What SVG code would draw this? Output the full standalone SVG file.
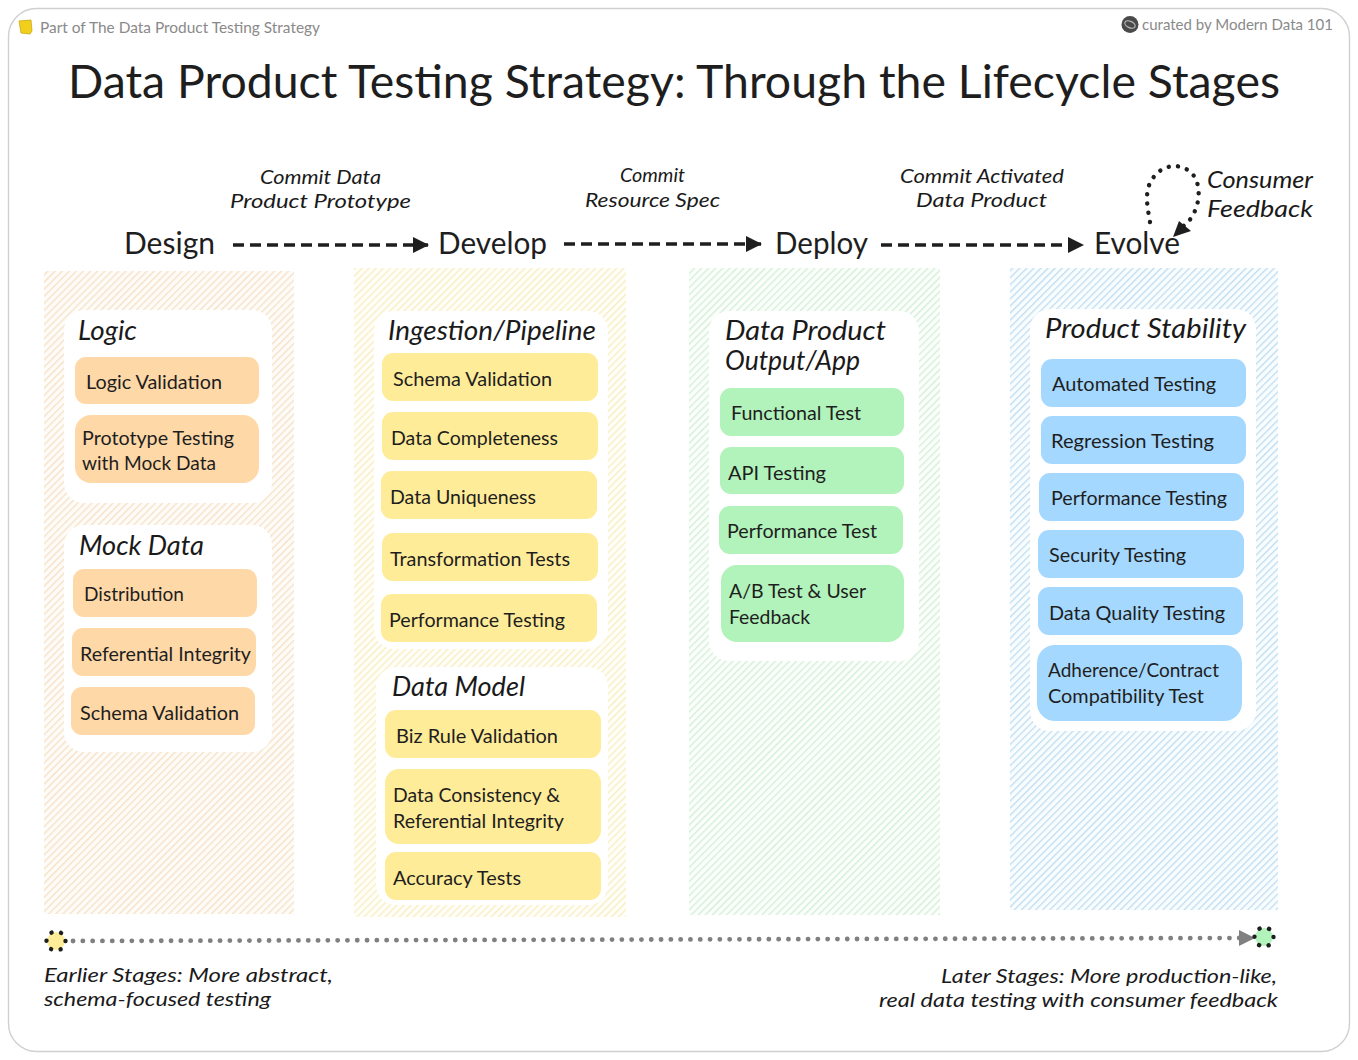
<svg xmlns="http://www.w3.org/2000/svg" width="1358" height="1060" viewBox="0 0 1358 1060">
<style>
text{fill:#1e1e1e}
.b{font:20px "Lato","Noto Sans",sans-serif}
.t{font:47px "Lato","Noto Sans",sans-serif}
.s{font:30px "Lato","Noto Sans",sans-serif}
.g{font:16px "Lato","Noto Sans",sans-serif;fill:#8a8a8a}
.h{font:italic 19px "Lato","Open Sans",sans-serif;fill:#1a1a1a}
.f{font:italic 20px "Lato","Open Sans",sans-serif;fill:#1a1a1a}
.c{font:italic 24px "Lato","Open Sans",sans-serif;fill:#1a1a1a}
.h2{font:italic 27px "Lato","Open Sans",sans-serif;fill:#1a1a1a}
.card{fill:#fff}
.o{fill:#ffd8a8}.y{fill:#ffec99}.n{fill:#b2f2bb}.l{fill:#a5d8ff}
.dash{fill:none;stroke:#1e1e1e;stroke-width:3.400;stroke-dasharray:11 6}
.dot{fill:none;stroke:#1e1e1e;stroke-width:4.400;stroke-linecap:round;stroke-dasharray:.1 9.200}
</style>
<defs>
<pattern id="po" width="5" height="5" patternUnits="userSpaceOnUse" patternTransform="rotate(-45)"><rect width="5" height="5" fill="#fefcf8"/><rect width="5" height="1.300" fill="#f5e0c4"/></pattern>
<pattern id="py" width="5" height="5" patternUnits="userSpaceOnUse" patternTransform="rotate(-45)"><rect width="5" height="5" fill="#fffef8"/><rect width="5" height="1.300" fill="#f8edc0"/></pattern>
<pattern id="pn" width="5" height="5" patternUnits="userSpaceOnUse" patternTransform="rotate(-45)"><rect width="5" height="5" fill="#fbfefb"/><rect width="5" height="1.300" fill="#d2eed6"/></pattern>
<pattern id="pl" width="5" height="5" patternUnits="userSpaceOnUse" patternTransform="rotate(-45)"><rect width="5" height="5" fill="#fafdfe"/><rect width="5" height="1.300" fill="#bedcf1"/></pattern>
<marker id="ah" markerWidth="18" markerHeight="18" refX="15" refY="8" orient="auto" markerUnits="userSpaceOnUse"><path d="M0 0L16 8L0 16Z" fill="#1e1e1e"/></marker>
</defs>
<rect id="frame" x="8.500" y="8.500" width="1341" height="1043" rx="28" fill="#fff" stroke="#d0d0d0" stroke-width="1.400"/>

<g id="header">
<path d="M19 21L31 20L32 31L30 34L21 33Z" fill="#f2cf1d" stroke="#c9a90f" stroke-width=".8"/>
<text class="g" x="40" y="33" textLength="280" lengthAdjust="spacingAndGlyphs">Part of The Data Product Testing Strategy</text>
<circle cx="1130" cy="24.500" r="8.500" fill="#4a4a4a"/><ellipse cx="1130" cy="24.500" rx="5.500" ry="3.200" fill="none" stroke="#bbb" stroke-width="1.200" transform="rotate(25 1130 24.500)"/>
<text class="g" x="1142" y="30" textLength="191" lengthAdjust="spacingAndGlyphs">curated by Modern Data 101</text>
<text class="t" x="68" y="98" textLength="1212" lengthAdjust="spacingAndGlyphs">Data Product Testing Strategy: Through the Lifecycle Stages</text>
</g>

<g id="stage-design"><text class="s" x="124" y="254" textLength="91" lengthAdjust="spacingAndGlyphs">Design</text></g>
<g id="stage-develop"><text class="s" x="438" y="254" textLength="109" lengthAdjust="spacingAndGlyphs">Develop</text></g>
<g id="stage-deploy"><text class="s" x="775" y="254" textLength="93" lengthAdjust="spacingAndGlyphs">Deploy</text></g>
<g id="stage-evolve"><text class="s" x="1094" y="254" textLength="86" lengthAdjust="spacingAndGlyphs">Evolve</text></g>

<g id="connectors">
<path class="dash" d="M233 245H428" marker-end="url(#ah)"/>
<path class="dash" d="M564 244H761" marker-end="url(#ah)"/>
<path class="dash" d="M881 245H1083" marker-end="url(#ah)"/>
<path class="dot" d="M1150 222C1147 205 1144 190 1153 178C1163 163 1184 162 1194 176C1203 190 1198 212 1187 223L1180 229"/>
<path d="M1173 237L1179 221L1191 231Z" fill="#1e1e1e"/>
<path d="M73 941L1240 938" fill="none" stroke="#808080" stroke-width="4.800" stroke-linecap="round" stroke-dasharray=".1 9.700"/>
<path d="M1239 930L1255 938L1239 946Z" fill="#808080"/>
</g>

<g id="labels">
<text class="h" x="260" y="184" textLength="121" lengthAdjust="spacingAndGlyphs">Commit Data</text>
<text class="h" x="230" y="208" textLength="181" lengthAdjust="spacingAndGlyphs">Product Prototype</text>
<text class="h" x="620" y="182" textLength="65" lengthAdjust="spacingAndGlyphs">Commit</text>
<text class="h" x="585" y="207" textLength="135" lengthAdjust="spacingAndGlyphs">Resource Spec</text>
<text class="h" x="900" y="183" textLength="164" lengthAdjust="spacingAndGlyphs">Commit Activated</text>
<text class="h" x="916" y="207" textLength="131" lengthAdjust="spacingAndGlyphs">Data Product</text>
<text class="c" x="1207" y="188" textLength="106" lengthAdjust="spacingAndGlyphs">Consumer</text>
<text class="c" x="1207" y="217" textLength="106" lengthAdjust="spacingAndGlyphs">Feedback</text>
<text class="f" x="44" y="982" textLength="289" lengthAdjust="spacingAndGlyphs">Earlier Stages: More abstract,</text>
<text class="f" x="44" y="1006" textLength="227" lengthAdjust="spacingAndGlyphs">schema-focused testing</text>
<text class="f" x="941" y="983" textLength="336" lengthAdjust="spacingAndGlyphs">Later Stages: More production-like,</text>
<text class="f" x="879" y="1007" textLength="399" lengthAdjust="spacingAndGlyphs">real data testing with consumer feedback</text>
</g>

<g id="column-design">
<rect x="44" y="271" width="250" height="643" fill="url(#po)"/>
<g id="card-logic"><rect class="card" x="64" y="310" width="208" height="193" rx="20"/>
<text class="h2" x="78" y="340" textLength="59" lengthAdjust="spacingAndGlyphs">Logic</text></g>
<g id="logic-validation"><rect class="o" x="75" y="357" width="184" height="47" rx="11"/><text class="b" x="86" y="389" textLength="136" lengthAdjust="spacingAndGlyphs">Logic Validation</text></g>
<g id="prototype-testing"><rect class="o" x="75" y="415" width="184" height="68" rx="16"/><text class="b" x="82" y="445" textLength="152" lengthAdjust="spacingAndGlyphs">Prototype Testing</text><text class="b" x="82" y="470" textLength="134" lengthAdjust="spacingAndGlyphs">with Mock Data</text></g>
<g id="card-mock"><rect class="card" x="64" y="525" width="208" height="227" rx="20"/>
<text class="h2" x="79" y="555" textLength="125" lengthAdjust="spacingAndGlyphs">Mock Data</text></g>
<g id="distribution"><rect class="o" x="73" y="569" width="184" height="48" rx="11"/><text class="b" x="84" y="601" textLength="100" lengthAdjust="spacingAndGlyphs">Distribution</text></g>
<g id="referential-integrity"><rect class="o" x="72" y="628" width="184" height="48" rx="11"/><text class="b" x="80" y="661" textLength="171" lengthAdjust="spacingAndGlyphs">Referential Integrity</text></g>
<g id="schema-validation-a"><rect class="o" x="71" y="687" width="184" height="48" rx="11"/><text class="b" x="80" y="720" textLength="159" lengthAdjust="spacingAndGlyphs">Schema Validation</text></g>
</g>

<g id="column-develop">
<rect x="354" y="268" width="272" height="649" fill="url(#py)"/>
<g id="card-ingestion"><rect class="card" x="374" y="311" width="234" height="338" rx="20"/>
<text class="h2" x="388" y="340" textLength="208" lengthAdjust="spacingAndGlyphs">Ingestion/Pipeline</text></g>
<g id="schema-validation-b"><rect class="y" x="382" y="353" width="216" height="48" rx="11"/><text class="b" x="393" y="386" textLength="159" lengthAdjust="spacingAndGlyphs">Schema Validation</text></g>
<g id="data-completeness"><rect class="y" x="382" y="412" width="216" height="48" rx="11"/><text class="b" x="391" y="445" textLength="167" lengthAdjust="spacingAndGlyphs">Data Completeness</text></g>
<g id="data-uniqueness"><rect class="y" x="381" y="471" width="216" height="48" rx="11"/><text class="b" x="390" y="504" textLength="146" lengthAdjust="spacingAndGlyphs">Data Uniqueness</text></g>
<g id="transformation-tests"><rect class="y" x="382" y="533" width="216" height="48" rx="11"/><text class="b" x="390" y="566" textLength="180" lengthAdjust="spacingAndGlyphs">Transformation Tests</text></g>
<g id="performance-testing-b"><rect class="y" x="381" y="594" width="216" height="48" rx="11"/><text class="b" x="389" y="627" textLength="176" lengthAdjust="spacingAndGlyphs">Performance Testing</text></g>
<g id="card-data-model"><rect class="card" x="376" y="667" width="232" height="238" rx="20"/>
<text class="h2" x="392" y="696" textLength="133" lengthAdjust="spacingAndGlyphs">Data Model</text></g>
<g id="biz-rule"><rect class="y" x="385" y="710" width="216" height="48" rx="11"/><text class="b" x="396" y="743" textLength="162" lengthAdjust="spacingAndGlyphs">Biz Rule Validation</text></g>
<g id="data-consistency"><rect class="y" x="385" y="769" width="216" height="75" rx="14"/><text class="b" x="393" y="802" textLength="167" lengthAdjust="spacingAndGlyphs">Data Consistency &amp;</text><text class="b" x="393" y="828" textLength="171" lengthAdjust="spacingAndGlyphs">Referential Integrity</text></g>
<g id="accuracy-tests"><rect class="y" x="385" y="852" width="216" height="48" rx="11"/><text class="b" x="393" y="885" textLength="128" lengthAdjust="spacingAndGlyphs">Accuracy Tests</text></g>
</g>

<g id="column-deploy">
<rect x="689" y="268" width="251" height="647" fill="url(#pn)"/>
<g id="card-output"><rect class="card" x="709" y="311" width="210" height="350" rx="20"/>
<text class="h2" x="725" y="340" textLength="161" lengthAdjust="spacingAndGlyphs">Data Product</text><text class="h2" x="725" y="370" textLength="135" lengthAdjust="spacingAndGlyphs">Output/App</text></g>
<g id="functional-test"><rect class="n" x="720" y="388" width="184" height="48" rx="11"/><text class="b" x="731" y="420" textLength="130" lengthAdjust="spacingAndGlyphs">Functional Test</text></g>
<g id="api-testing"><rect class="n" x="720" y="447" width="184" height="47" rx="11"/><text class="b" x="728" y="480" textLength="98" lengthAdjust="spacingAndGlyphs">API Testing</text></g>
<g id="performance-test"><rect class="n" x="719" y="506" width="184" height="48" rx="11"/><text class="b" x="727" y="538" textLength="150" lengthAdjust="spacingAndGlyphs">Performance Test</text></g>
<g id="ab-test"><rect class="n" x="721" y="565" width="183" height="77" rx="16"/><text class="b" x="729" y="598" textLength="137" lengthAdjust="spacingAndGlyphs">A/B Test &amp; User</text><text class="b" x="729" y="624" textLength="81" lengthAdjust="spacingAndGlyphs">Feedback</text></g>
</g>

<g id="column-evolve">
<rect x="1010" y="268" width="268" height="642" fill="url(#pl)"/>
<g id="card-stability"><rect class="card" x="1030" y="309" width="226" height="422" rx="20"/>
<text class="h2" x="1045" y="338" textLength="201" lengthAdjust="spacingAndGlyphs">Product Stability</text></g>
<g id="automated-testing"><rect class="l" x="1041" y="359" width="205" height="48" rx="11"/><text class="b" x="1052" y="391" textLength="164" lengthAdjust="spacingAndGlyphs">Automated Testing</text></g>
<g id="regression-testing"><rect class="l" x="1041" y="416" width="205" height="48" rx="11"/><text class="b" x="1051" y="448" textLength="163" lengthAdjust="spacingAndGlyphs">Regression Testing</text></g>
<g id="performance-testing-d"><rect class="l" x="1039" y="473" width="205" height="48" rx="11"/><text class="b" x="1051" y="505" textLength="176" lengthAdjust="spacingAndGlyphs">Performance Testing</text></g>
<g id="security-testing"><rect class="l" x="1038" y="530" width="206" height="48" rx="11"/><text class="b" x="1049" y="562" textLength="137" lengthAdjust="spacingAndGlyphs">Security Testing</text></g>
<g id="data-quality"><rect class="l" x="1038" y="587" width="205" height="48" rx="11"/><text class="b" x="1049" y="620" textLength="176" lengthAdjust="spacingAndGlyphs">Data Quality Testing</text></g>
<g id="adherence"><rect class="l" x="1037" y="645" width="205" height="76" rx="18"/><text class="b" x="1048" y="677" textLength="171" lengthAdjust="spacingAndGlyphs">Adherence/Contract</text><text class="b" x="1048" y="703" textLength="156" lengthAdjust="spacingAndGlyphs">Compatibility Test</text></g>
</g>

<g id="start-marker"><circle cx="56" cy="941" r="9" fill="#ffec99"/><circle cx="56" cy="941" r="9.500" fill="none" stroke="#1e1e1e" stroke-width="4.400" stroke-linecap="round" stroke-dasharray=".1 9.850"/></g>
<g id="end-marker"><circle cx="1264" cy="937" r="9" fill="#b2f2bb"/><circle cx="1264" cy="937" r="9.500" fill="none" stroke="#1e1e1e" stroke-width="4.400" stroke-linecap="round" stroke-dasharray=".1 9.850"/></g>
</svg>
